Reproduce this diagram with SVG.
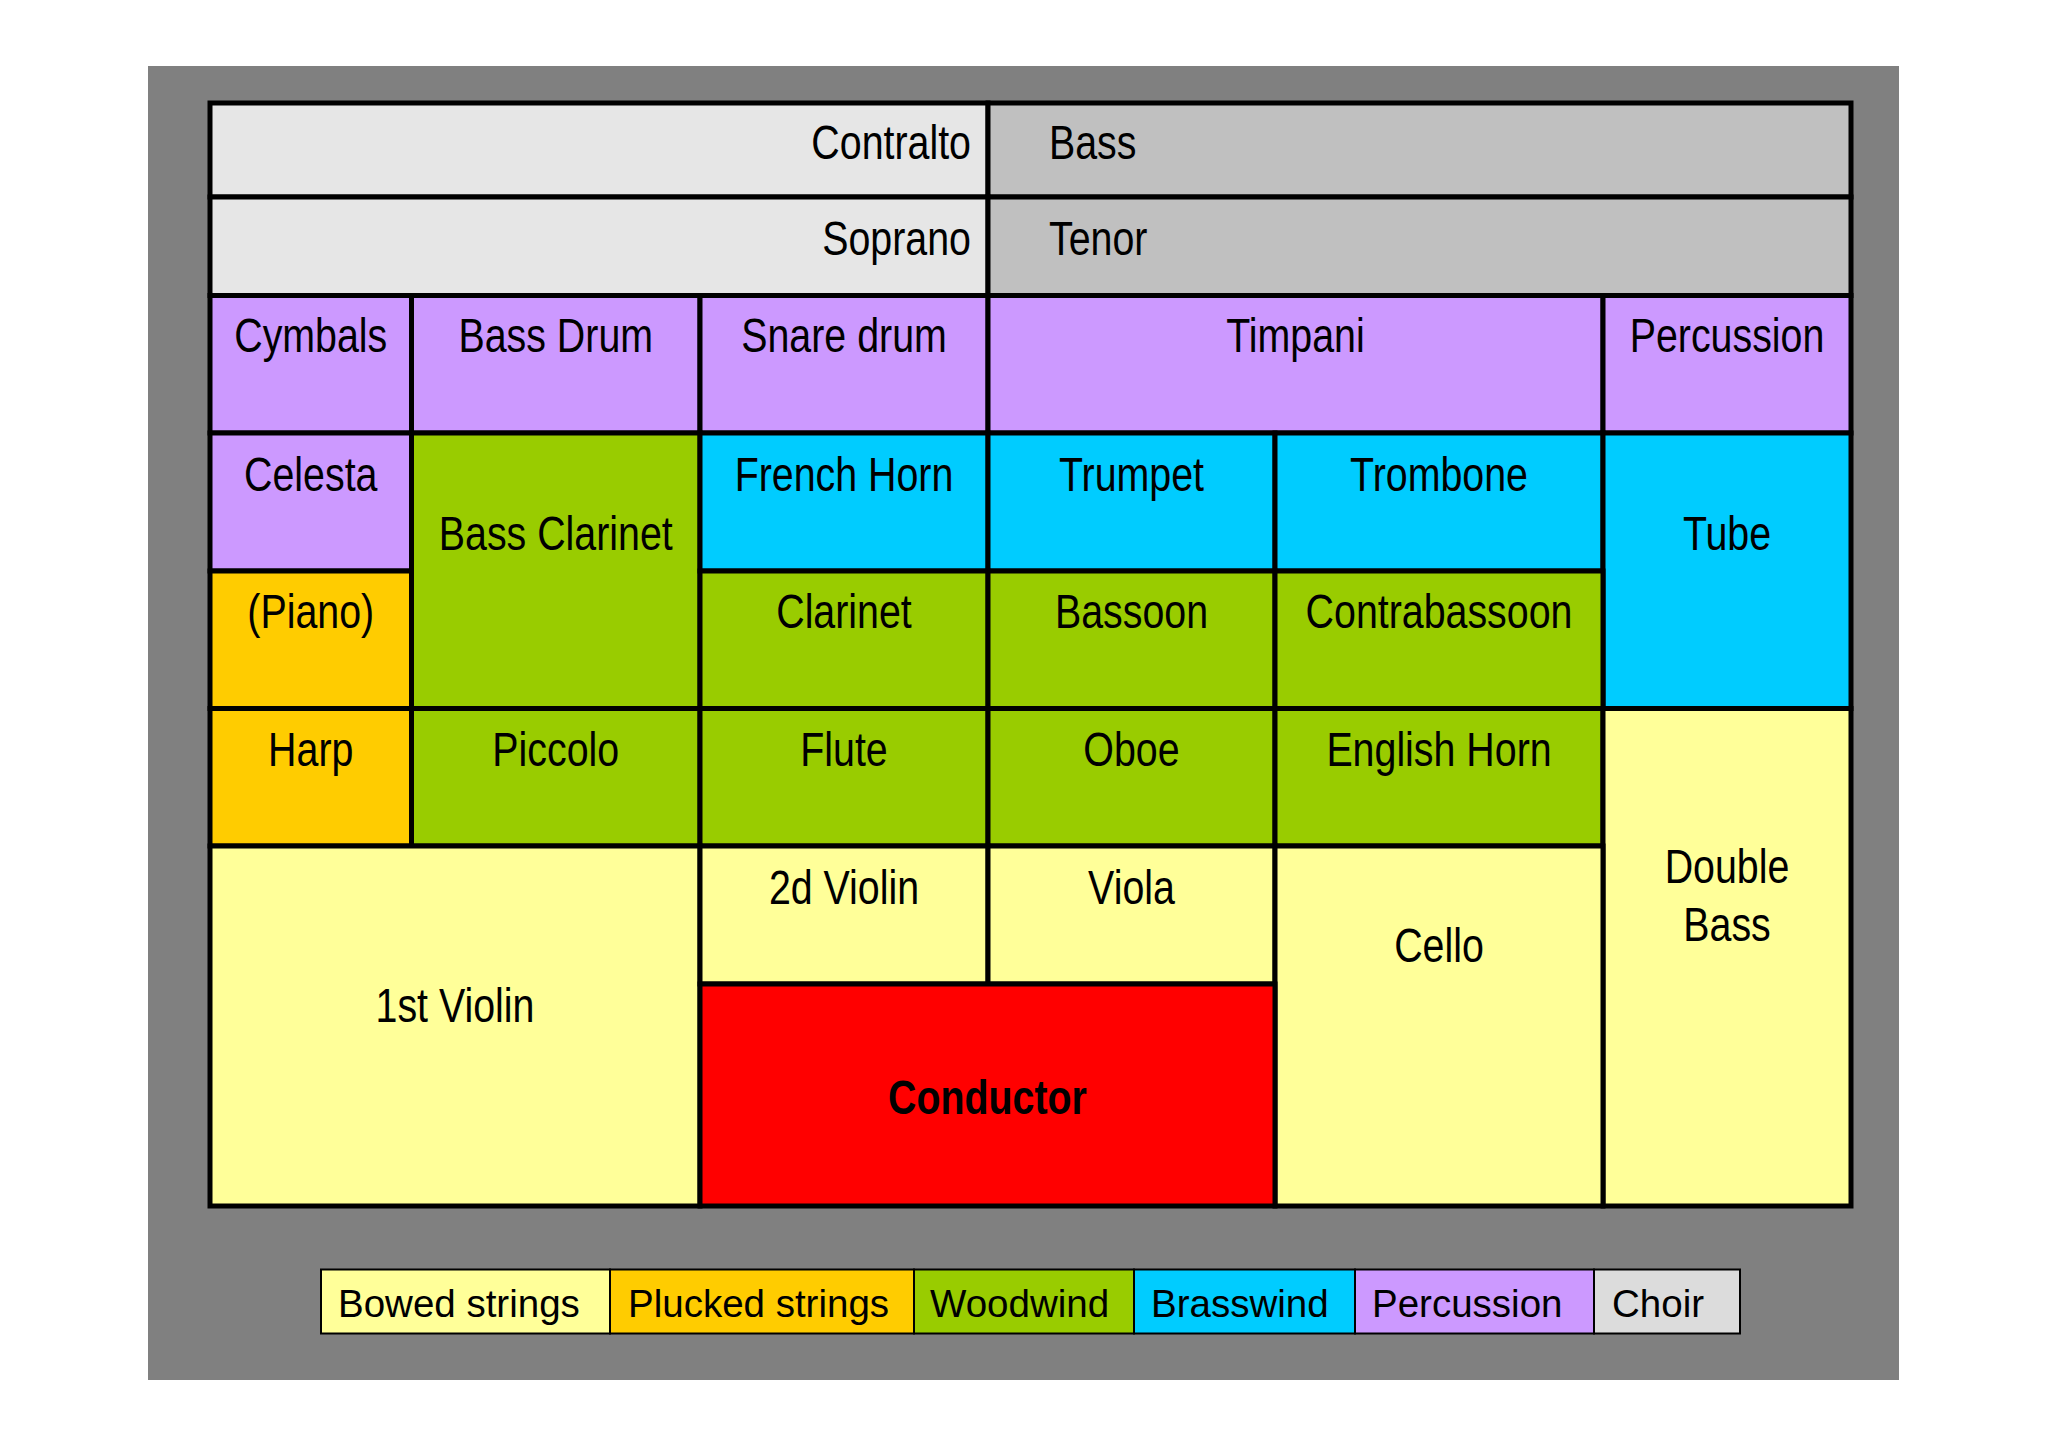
<svg xmlns="http://www.w3.org/2000/svg" width="2048" height="1447" viewBox="0 0 2048 1447">
<style>
.c{stroke:#000;stroke-width:5}
.t{font-family:"Liberation Sans",Arial,sans-serif;font-size:48px;fill:#000;text-anchor:middle}
.b{font-weight:bold}
.e{text-anchor:end}
.s{text-anchor:start}
.lg{stroke:#000;stroke-width:2}
.lt{font-family:"Liberation Sans",Arial,sans-serif;font-size:38.5px;fill:#000}
.ch1{fill:#e6e6e6}.ch2{fill:#c0c0c0}.pc{fill:#cc99ff}.br{fill:#00ccff}.ww{fill:#99cc00}.pl{fill:#ffcc00}.bw{fill:#ffff99}.cd{fill:#ff0000}
</style>
<rect x="0" y="0" width="2048" height="1447" fill="#ffffff"/>
<rect x="148" y="66" width="1751" height="1314" fill="#808080"/>

<g id="contralto"><rect class="c ch1" x="210" y="103" width="778" height="94"/><text class="t e" transform="translate(971 159) scale(0.82 1)">Contralto</text></g>
<g id="bass"><rect class="c ch2" x="988" y="103" width="863" height="94"/><text class="t s" transform="translate(1049 159) scale(0.82 1)">Bass</text></g>
<g id="soprano"><rect class="c ch1" x="210" y="197" width="778" height="98.5"/><text class="t e" transform="translate(971 255) scale(0.82 1)">Soprano</text></g>
<g id="tenor"><rect class="c ch2" x="988" y="197" width="863" height="98.5"/><text class="t s" transform="translate(1049 255) scale(0.82 1)">Tenor</text></g>

<g id="cymbals"><rect class="c pc" x="210" y="295.5" width="201.5" height="137.5"/><text class="t" transform="translate(310.75 352) scale(0.82 1)">Cymbals</text></g>
<g id="bass-drum"><rect class="c pc" x="411.5" y="295.5" width="288.5" height="137.5"/><text class="t" transform="translate(555.75 352) scale(0.82 1)">Bass Drum</text></g>
<g id="snare-drum"><rect class="c pc" x="700" y="295.5" width="288" height="137.5"/><text class="t" transform="translate(844 352) scale(0.82 1)">Snare drum</text></g>
<g id="timpani"><rect class="c pc" x="988" y="295.5" width="615" height="137.5"/><text class="t" transform="translate(1295.5 352) scale(0.82 1)">Timpani</text></g>
<g id="percussion"><rect class="c pc" x="1603" y="295.5" width="248" height="137.5"/><text class="t" transform="translate(1727 352) scale(0.82 1)">Percussion</text></g>

<g id="celesta"><rect class="c pc" x="210" y="433" width="201.5" height="138"/><text class="t" transform="translate(310.75 491) scale(0.82 1)">Celesta</text></g>
<g id="bass-clarinet"><rect class="c ww" x="411.5" y="433" width="288.5" height="275.5"/><text class="t" transform="translate(555.75 549.5) scale(0.82 1)">Bass Clarinet</text></g>
<g id="french-horn"><rect class="c br" x="700" y="433" width="288" height="138"/><text class="t" transform="translate(844 491) scale(0.82 1)">French Horn</text></g>
<g id="trumpet"><rect class="c br" x="988" y="433" width="287" height="138"/><text class="t" transform="translate(1131.5 491) scale(0.82 1)">Trumpet</text></g>
<g id="trombone"><rect class="c br" x="1275" y="433" width="328" height="138"/><text class="t" transform="translate(1439 491) scale(0.82 1)">Trombone</text></g>
<g id="tube"><rect class="c br" x="1603" y="433" width="248" height="275.5"/><text class="t" transform="translate(1727 549.5) scale(0.82 1)">Tube</text></g>

<g id="piano"><rect class="c pl" x="210" y="571" width="201.5" height="137.5"/><text class="t" transform="translate(310.75 628) scale(0.82 1)">(Piano)</text></g>
<g id="clarinet"><rect class="c ww" x="700" y="571" width="288" height="137.5"/><text class="t" transform="translate(844 628) scale(0.82 1)">Clarinet</text></g>
<g id="bassoon"><rect class="c ww" x="988" y="571" width="287" height="137.5"/><text class="t" transform="translate(1131.5 628) scale(0.82 1)">Bassoon</text></g>
<g id="contrabassoon"><rect class="c ww" x="1275" y="571" width="328" height="137.5"/><text class="t" transform="translate(1439 628) scale(0.82 1)">Contrabassoon</text></g>

<g id="harp"><rect class="c pl" x="210" y="708.5" width="201.5" height="137.5"/><text class="t" transform="translate(310.75 766) scale(0.82 1)">Harp</text></g>
<g id="piccolo"><rect class="c ww" x="411.5" y="708.5" width="288.5" height="137.5"/><text class="t" transform="translate(555.75 766) scale(0.82 1)">Piccolo</text></g>
<g id="flute"><rect class="c ww" x="700" y="708.5" width="288" height="137.5"/><text class="t" transform="translate(844 766) scale(0.82 1)">Flute</text></g>
<g id="oboe"><rect class="c ww" x="988" y="708.5" width="287" height="137.5"/><text class="t" transform="translate(1131.5 766) scale(0.82 1)">Oboe</text></g>
<g id="english-horn"><rect class="c ww" x="1275" y="708.5" width="328" height="137.5"/><text class="t" transform="translate(1439 766) scale(0.82 1)">English Horn</text></g>
<g id="double-bass"><rect class="c bw" x="1603" y="708.5" width="248" height="497.5"/><text class="t" transform="translate(1727 883) scale(0.82 1)">Double</text><text class="t" transform="translate(1727 940.5) scale(0.82 1)">Bass</text></g>

<g id="first-violin"><rect class="c bw" x="210" y="846" width="490" height="360"/><text class="t" transform="translate(455 1022) scale(0.82 1)">1st Violin</text></g>
<g id="second-violin"><rect class="c bw" x="700" y="846" width="288" height="138"/><text class="t" transform="translate(844 904) scale(0.82 1)">2d Violin</text></g>
<g id="viola"><rect class="c bw" x="988" y="846" width="287" height="138"/><text class="t" transform="translate(1131.5 904) scale(0.82 1)">Viola</text></g>
<g id="cello"><rect class="c bw" x="1275" y="846" width="328" height="360"/><text class="t" transform="translate(1439 961.5) scale(0.82 1)">Cello</text></g>
<g id="conductor"><rect class="c cd" x="700" y="984" width="575" height="222"/><text class="t b" transform="translate(987.5 1114) scale(0.82 1)">Conductor</text></g>

<g id="legend">
<g id="legend-bowed"><rect class="lg bw" x="321" y="1269.5" width="289" height="64"/><text class="lt" x="338" y="1317">Bowed strings</text></g>
<g id="legend-plucked"><rect class="lg pl" x="610" y="1269.5" width="304" height="64"/><text class="lt" x="628" y="1317">Plucked strings</text></g>
<g id="legend-woodwind"><rect class="lg ww" x="914" y="1269.5" width="220" height="64"/><text class="lt" x="930" y="1317">Woodwind</text></g>
<g id="legend-brass"><rect class="lg br" x="1134" y="1269.5" width="221" height="64"/><text class="lt" x="1151" y="1317">Brasswind</text></g>
<g id="legend-percussion"><rect class="lg pc" x="1355" y="1269.5" width="239" height="64"/><text class="lt" x="1372" y="1317">Percussion</text></g>
<g id="legend-choir"><rect class="lg" fill="#dcdcdc" x="1594" y="1269.5" width="146" height="64"/><text class="lt" x="1612" y="1317">Choir</text></g>
</g>
</svg>
